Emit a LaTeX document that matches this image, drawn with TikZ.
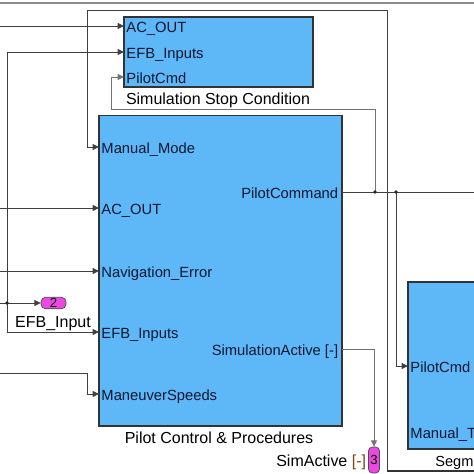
\documentclass[tikz,border=0pt]{standalone}
\usepackage{fontspec}
\setmainfont{Liberation Sans}
\usepackage{xcolor}
\usetikzlibrary{arrows.meta, positioning, calc}

\definecolor{blockblue}{RGB}{94,184,248}
\definecolor{portpink}{RGB}{236,72,226}
\definecolor{dimtag}{RGB}{120,70,20}
\definecolor{porttext}{RGB}{12,22,48}

\begin{document}
\begin{tikzpicture}[
    x=0.02cm, y=-0.02cm,
    font=\fontsize{8.4}{10}\selectfont,
    % Block styling
    block/.style={draw=black!80, line width=0.6pt, fill=blockblue, inner sep=0pt},
    inport/.style={anchor=west, inner sep=1.2pt, text height=1.4ex, text depth=0pt, text=porttext},
    outport/.style={anchor=east, inner sep=2pt, text height=1.4ex, text depth=0pt, text=porttext},
    caption/.style={inner sep=0pt, text height=1.4ex, text depth=0pt, font=\fontsize{9.1}{11}\selectfont},
    terminal/.style={draw=black!70, fill=portpink, rounded corners=2.6pt, inner sep=0pt, font=\fontsize{7.5}{8}\selectfont},
    % Wire styling
    wire/.style={draw=black!75, line width=0.5pt},
    arrow/.style={wire, -{Triangle[length=3.6pt,width=3.4pt]}},
    junction/.style={circle, fill=black!85, inner sep=0pt, minimum size=2pt}
]
\clip (0,0) rectangle (474,474);
\fill[white] (0,0) rectangle (474,474);

% ---------------------------------------------------
% 1. BLOCKS
% ---------------------------------------------------
\node[block, minimum width=3.78cm, minimum height=1.4cm] (stop) at (218.5,52) {};
\node[block, minimum width=4.86cm, minimum height=6.22cm] (pilot) at (220.5,270.5) {};
\node[block, minimum width=2.44cm, minimum height=3.34cm] (segment) at (469,365.5) {};

\node[caption] (stopcap) at (218,98) {Simulation Stop Condition};
\node[caption] (pilotcap) at (219,437) {Pilot Control \& Procedures};
\node[caption, anchor=west, font=\fontsize{8.3}{10}\selectfont] (segcap) at (435,460) {Segm};

% Port labels
\node[inport] (stop-ac) at (124,26) {AC\_OUT};
\node[inport] (stop-efb) at (124,52) {EFB\_Inputs};
\node[inport] (stop-cmd) at (124,77) {PilotCmd};

\node[inport] (pilot-mm) at (99,147) {Manual\_Mode};
\node[inport] (pilot-ac) at (99,208) {AC\_OUT};
\node[inport] (pilot-nav) at (99,271) {Navigation\_Error};
\node[inport] (pilot-efb) at (99,332) {EFB\_Inputs};
\node[inport] (pilot-ms) at (99,394) {ManeuverSpeeds};
\node[outport] (pilot-cmd) at (342,192) {PilotCommand};
\node[outport] (pilot-sim) at (342,349) {SimulationActive [-]};

\node[inport] (seg-cmd) at (408,366) {PilotCmd};
\node[inport] (seg-mt) at (408,432) {Manual\_T};

% Outports
\node[terminal, minimum width=0.5cm, minimum height=0.23cm] (efbout) at (53.5,303) {2};
\node[caption] (efbcap) at (53,321) {EFB\_Input};
\node[terminal, minimum width=0.22cm, minimum height=0.52cm, rounded corners=2.2pt] (simout) at (374,460) {3};
\node[caption, anchor=east, inner sep=1pt] (simcap) at (simout.west) {SimActive \textcolor{dimtag}{[-]}};

% ---------------------------------------------------
% 2. CONNECTIONS
% ---------------------------------------------------
\draw[draw=black!45, line width=0.6pt] (0,3) -- (474,3);

\coordinate (acsrc1) at (0,26);
\coordinate (acsrc2) at (0,208);
\coordinate (navsrc) at (0,271);
\coordinate (efbsrc) at (0,303);
\coordinate (efbj) at (7,303);
\coordinate (mssrc) at (0,373);
\coordinate (mmsrc) at (474,471);
\coordinate (cmdout) at (474,192);
\coordinate (cmdj1) at (375,192);
\coordinate (cmdj2) at (396,192);

\draw[arrow] (acsrc1) -- (stop-ac.west);
\draw[arrow] (acsrc2) -- (pilot-ac.west);
\draw[arrow] (navsrc) -- (pilot-nav.west);

% EFB input fan out
\draw[arrow] (efbsrc) -- (efbout.west);
\draw[arrow] (efbj) |- (stop-efb.west);
\draw[arrow] (efbj) |- (pilot-efb.west);
\node[junction] at (efbj) {};

\draw[arrow] (mssrc) -| ([xshift=-0.24cm]pilot-ms.west) -- (pilot-ms.west);

% Manual mode loop from below
\draw[arrow] (mmsrc) -| (387,10) -| ([xshift=-0.24cm]pilot-mm.west) -- (pilot-mm.west);
\draw[draw=black!80, line width=1.2pt] (mmsrc) -- (387,471);

% Pilot command out and taps
\draw[wire] (pilot-cmd.east) -- (cmdout);
\draw[arrow, draw=black!55] (cmdj1) |- (111,109) |- (stop-cmd.west);
\draw[arrow] (cmdj2) |- (seg-cmd.west);
\node[junction] at (cmdj1) {};
\node[junction] at (cmdj2) {};

% Simulation active
\draw[arrow, draw=black!55] (pilot-sim.east) -| (simout.north);

\end{tikzpicture}
\end{document}
